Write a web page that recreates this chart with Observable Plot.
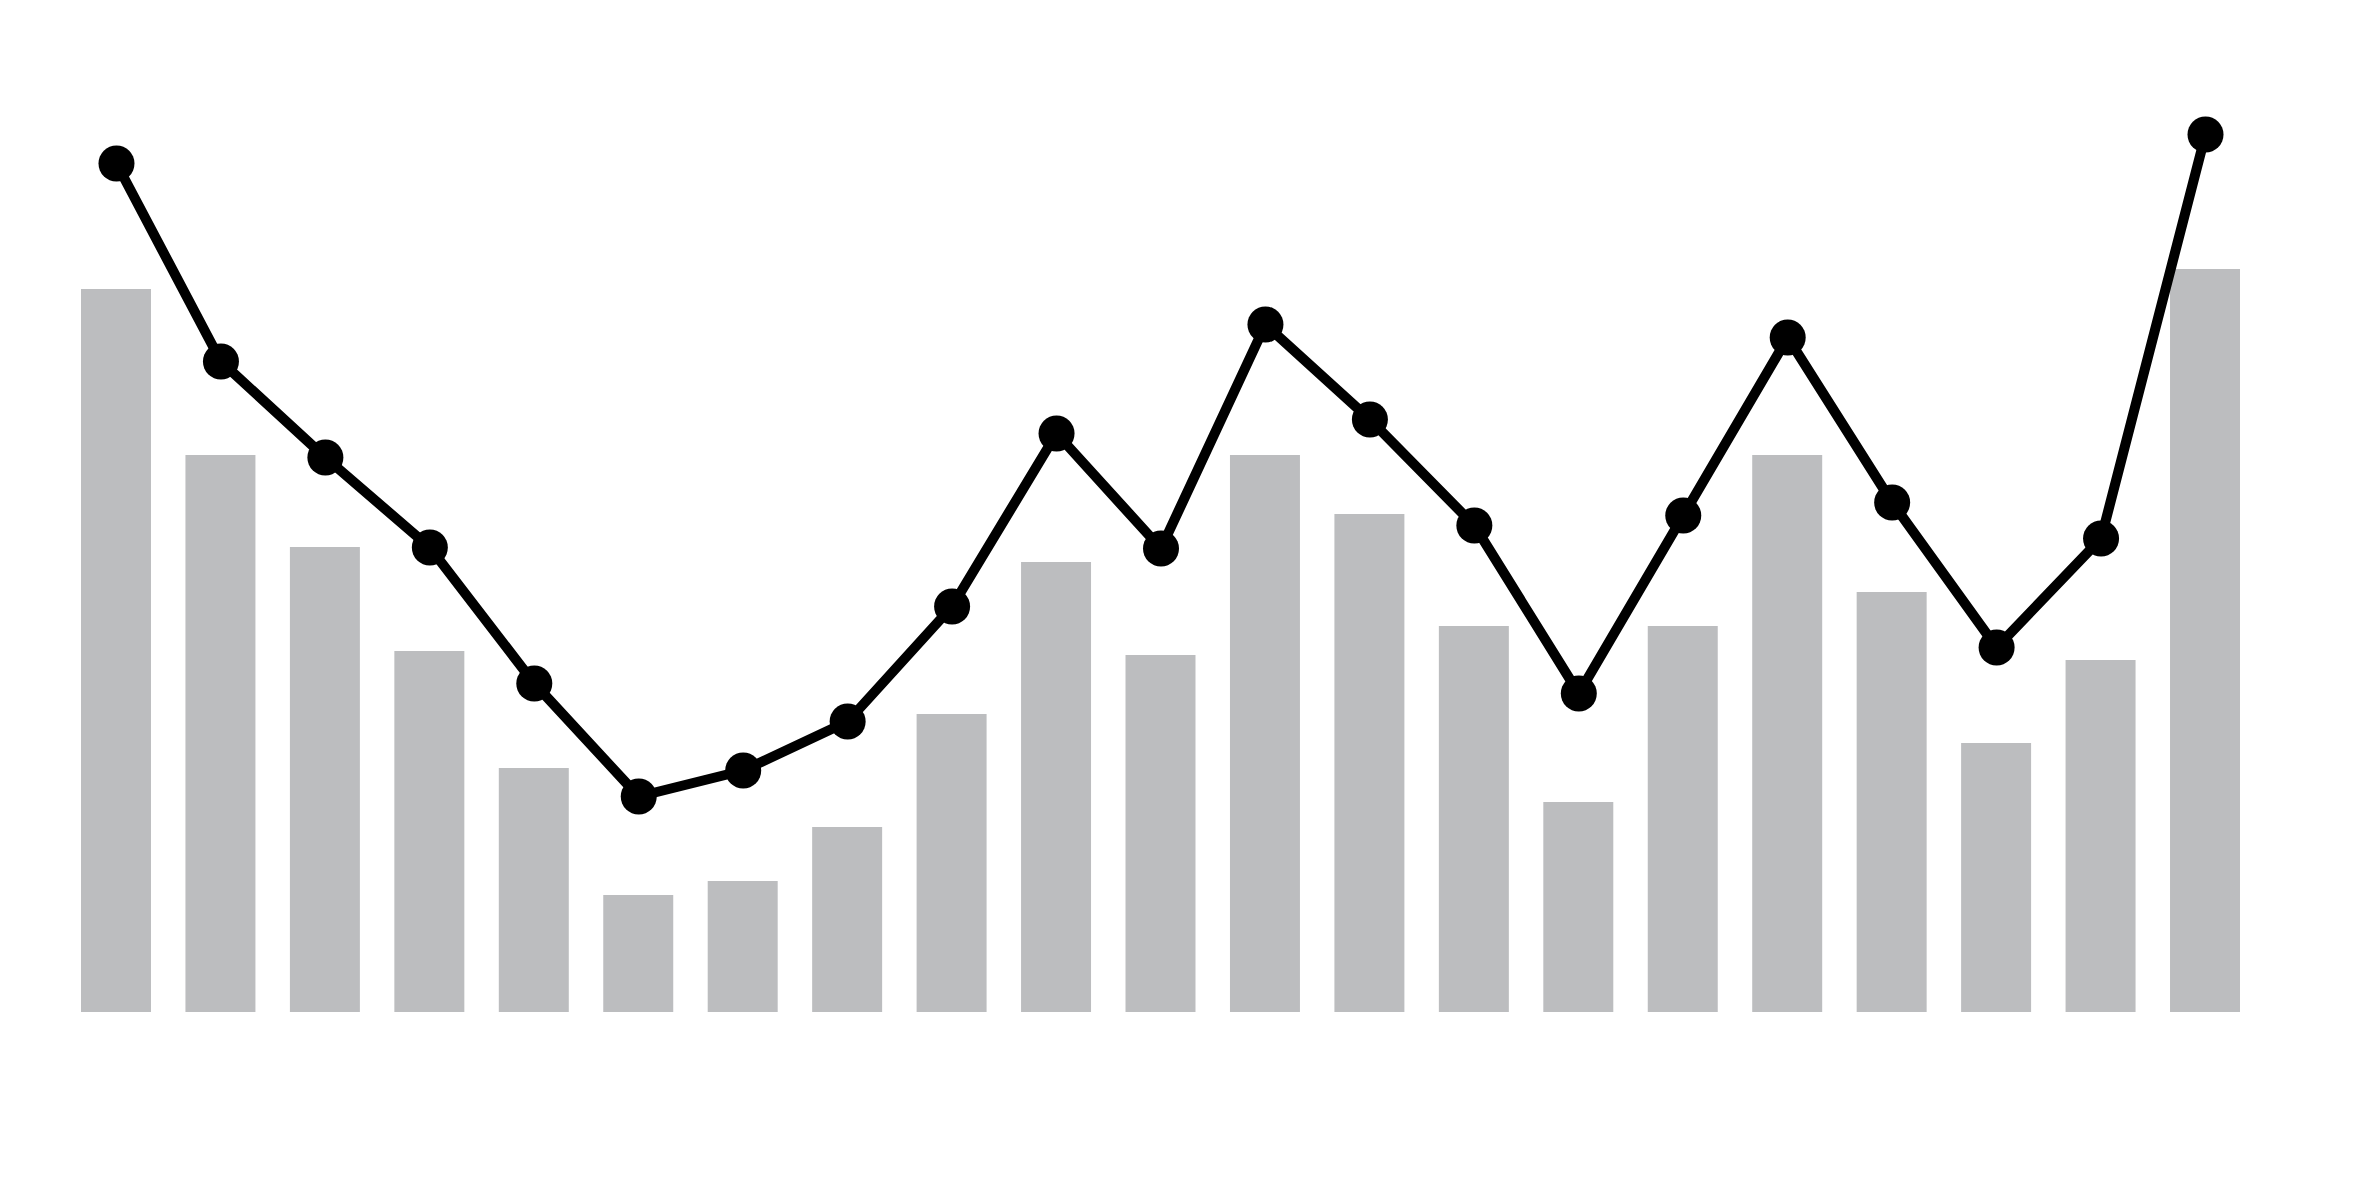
<!DOCTYPE html>
<html>
<head>
<meta charset="utf-8">
<script src="https://cdn.jsdelivr.net/npm/d3@7"></script>
<script src="https://cdn.jsdelivr.net/npm/@observablehq/plot@0.6"></script>
<style>
  html, body { margin: 0; padding: 0; background: #ffffff; overflow: hidden; }
  #chart svg { display: block; }
</style>
</head>
<body>
<div id="chart"></div>
<script>
const categories = d3.range(1, 22).map(String);
const barValues = [72.3, 55.7, 46.5, 36.1, 24.4, 11.7, 13.1, 18.5, 29.8, 45.0, 35.7, 55.7, 49.8, 38.6, 21.0, 38.6, 55.7, 42.0, 26.9, 35.2, 74.3];
const lineValues = [84.9, 65.1, 55.5, 46.5, 32.9, 21.6, 24.2, 29.1, 40.6, 57.9, 46.4, 68.8, 59.3, 48.7, 31.9, 49.7, 67.5, 51.0, 36.5, 47.4, 87.8];

const table = categories.map((c, i) => ({ cat: c, bar: barValues[i], line: lineValues[i] }));

const chart = Plot.plot({
  width: 2375,
  height: 1200,
  marginLeft: 81,
  marginRight: 135,
  marginTop: 12,
  marginBottom: 188,
  style: { background: "#ffffff" },
  x: { domain: categories, paddingInner: 0.33, paddingOuter: 0, round: false, axis: null },
  y: { domain: [0, 100], axis: null },
  marks: [
    Plot.barY(table, { x: "cat", y: "bar", fill: "#bcbdbf" }),
    Plot.line(table, { x: "cat", y: "line", stroke: "#000000", strokeWidth: 10, strokeLinejoin: "miter" }),
    Plot.dot(table, { x: "cat", y: "line", r: 18, fill: "#000000", stroke: "none" })
  ]
});
document.getElementById("chart").appendChild(chart);
</script>
</body>
</html>
